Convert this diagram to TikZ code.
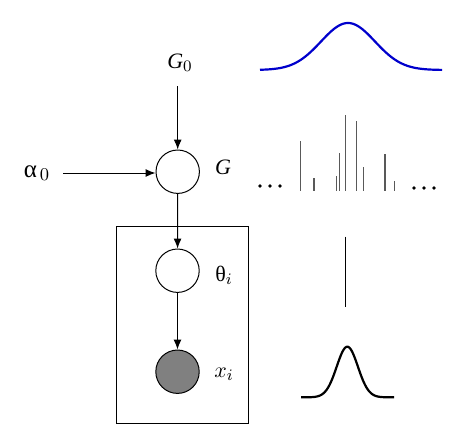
\documentclass[tikz,border=0pt]{standalone}
\usepackage{fontspec}
\setmainfont{Liberation Serif}
\usepackage{tikz}
\usetikzlibrary{arrows.meta, positioning}
\tikzstyle{word} = [align=center, inner sep=1pt, font=\fontsize{11}{13}\selectfont]
\tikzstyle{latent} = [circle, draw, line width=0.5pt, minimum size=21.7pt, inner sep=0pt, fill=white]
\tikzstyle{observed} = [latent, fill=black!50]
\tikzstyle{edge} = [-{Latex[length=5pt,width=4pt]}, line width=0.5pt]
\tikzstyle{spike} = [line width=0.7pt, black!65]

\begin{document}
\begin{tikzpicture}[x=0.5pt, y=-0.5pt]
\useasboundingbox (0,0) rectangle (474,441);

%nodes
\node (G0) [word] at (180,63) {\textit{G}$_0$};
\node (alpha) [word] at (37,173) {\fontsize{12.5}{14}\selectfont α$_{\,0}$};
\node (G) [latent] at (177.7,171.7) {};
\node (Glab) [word] at (223,167) {\textit{G}};
\node (theta) [latent] at (177.5,270.7) {};
\node (thetalab) [word] at (224,275) {θ$_i$};
\node (x) [observed] at (177.5,371.7) {};
\node (xlab) [word] at (224,374) {$x_i$};
\coordinate (G0end) at (177.7,86);
\coordinate (alphaend) at (63,173);

%plate
\draw [line width=0.5pt] (116,226) rectangle (248.7,423.3);

%arrows
\draw [edge] (G0end) -- (G);
\draw [edge] (alphaend) -- (alpha -| G.west);
\draw [edge] (G) -- (theta);
\draw [edge] (theta) -- (x);

%base measure
\draw [blue!80!black, line width=1.1pt] plot[domain=260:442, samples=120, smooth]
  (\x, {70-47*exp(-((\x-348)/27)^2/2)});

%atoms
\foreach \px/\top in {300.7/140.7, 314/177.7, 336.7/176, 339.7/152.7, 345.7/115,
                      356.7/120.7, 363.7/167.3, 385/154, 394.7/181.3}
  \draw [spike] (\px,190.7) -- (\px,\top);
\foreach \px in {260,270,280}
  \fill (\px,186) circle (0.9pt);
\foreach \px in {414,424,434}
  \fill (\px,188) circle (0.9pt);

%parameter and likelihood
\draw [line width=0.6pt] (345.3,236.7) -- (345.3,307.3);
\draw [line width=1.1pt] plot[domain=301:394, samples=120, smooth]
  (\x, {397.3-50.6*exp(-((\x-347.3)/10.6)^2/2)});

\end{tikzpicture}
\end{document}
